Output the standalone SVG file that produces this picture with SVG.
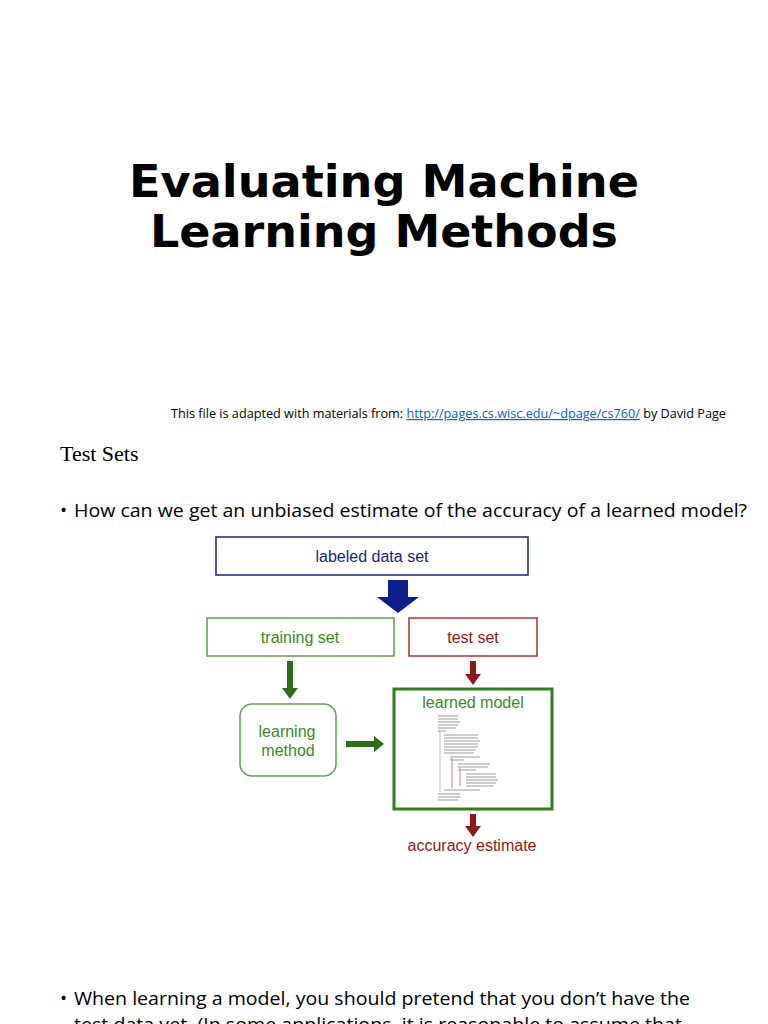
<svg xmlns="http://www.w3.org/2000/svg" width="768" height="1024" viewBox="0 0 768 1024">
<style>
.t{font-family:"DejaVu Sans",sans-serif;font-weight:bold;font-size:45px;fill:#000;text-anchor:middle}
.b{font-family:"Open Sans","Liberation Sans",sans-serif;font-size:19px;fill:#000}
.d{font-family:"Liberation Sans",Arial,sans-serif;font-size:16px;text-anchor:middle}
.g{fill:#3a8a28}.r{fill:#8b1a1a}.n{fill:#1a237e}
.code{stroke:#999;stroke-width:1}
</style>
<rect width="768" height="1024" fill="#fff"/>
<text class="t" x="384" y="197" textLength="510" lengthAdjust="spacingAndGlyphs">Evaluating Machine</text>
<text class="t" x="384" y="247" textLength="468" lengthAdjust="spacingAndGlyphs">Learning Methods</text>
<text x="171" y="418" font-family="Open Sans,Liberation Sans,sans-serif" font-size="12" textLength="555" lengthAdjust="spacingAndGlyphs">This file is adapted with materials from: <tspan fill="#0563c1" text-decoration="underline">http://pages.cs.wisc.edu/~dpage/cs760/</tspan> by David Page</text>
<text x="60" y="461" font-family="Liberation Serif,serif" font-size="22">Test Sets</text>
<text class="b" x="60" y="517">•</text>
<text class="b" x="74" y="517" textLength="673" lengthAdjust="spacingAndGlyphs">How can we get an unbiased estimate of the accuracy of a learned model?</text>
<g id="labeled"><rect x="216" y="537" width="312" height="38" fill="#fff" stroke="#1a237e" stroke-width="1.5"/><text class="d n" x="372" y="562">labeled data set</text></g>
<g id="training"><rect x="207" y="618" width="187" height="38" fill="#fff" stroke="#5fa04e" stroke-width="1.5"/><text class="d g" x="300" y="643">training set</text></g>
<g id="test"><rect x="409" y="618" width="128" height="38" fill="#fff" stroke="#a33" stroke-width="1.5"/><text class="d r" x="473" y="643">test set</text></g>
<g id="method"><rect x="240" y="704" width="96" height="72" rx="12" fill="#fff" stroke="#5fa04e" stroke-width="1.5"/><text class="d g" x="287" y="737">learning</text><text class="d g" x="288" y="756">method</text></g>
<g id="model"><rect x="394" y="689" width="158" height="120" fill="#fff" stroke="#2e7d1e" stroke-width="3"/><text class="d g" x="473" y="708">learned model</text>
<g class="code">
<line x1="438" y1="716" x2="458" y2="716"/><line x1="438" y1="719" x2="458" y2="719"/><line x1="438" y1="722" x2="460" y2="722"/><line x1="438" y1="725" x2="458" y2="725"/><line x1="438" y1="728" x2="456" y2="728"/><line x1="438" y1="731" x2="446" y2="731"/>
<line x1="444" y1="735" x2="478" y2="735"/><line x1="444" y1="738" x2="478" y2="738"/><line x1="444" y1="741" x2="480" y2="741"/><line x1="444" y1="744" x2="478" y2="744"/><line x1="444" y1="747" x2="478" y2="747"/><line x1="444" y1="750" x2="476" y2="750"/><line x1="444" y1="753" x2="474" y2="753"/>
<line x1="450" y1="757" x2="480" y2="757"/><line x1="450" y1="760" x2="464" y2="760"/><line x1="458" y1="764" x2="490" y2="764"/><line x1="458" y1="767" x2="488" y2="767"/><line x1="458" y1="770" x2="476" y2="770"/>
<line x1="466" y1="774" x2="496" y2="774"/><line x1="466" y1="777" x2="496" y2="777"/><line x1="466" y1="780" x2="498" y2="780"/><line x1="466" y1="783" x2="496" y2="783"/><line x1="466" y1="786" x2="494" y2="786"/>
<line x1="444" y1="790" x2="480" y2="790"/><line x1="438" y1="794" x2="460" y2="794"/><line x1="438" y1="797" x2="460" y2="797"/><line x1="438" y1="800" x2="458" y2="800"/>
<line x1="440" y1="731" x2="440" y2="792" stroke="#bbb"/><line x1="452" y1="758" x2="452" y2="788" stroke="#c88"/><line x1="460" y1="768" x2="460" y2="786" stroke="#c88"/>
</g></g>
<g id="accuracy"><text class="d r" x="472" y="851">accuracy estimate</text></g>
<g id="connectors">
<polygon points="388,580 408,580 408,597 419,597 398,613 377,597 388,597" fill="#0d1f8c"/>
<polygon points="287,661 293,661 293,688 298,688 290,699 282,688 287,688" fill="#2e6e1a"/>
<polygon points="470,661 476,661 476,674 481,674 473,685 465,674 470,674" fill="#8b1a1a"/>
<polygon points="346,741 374,741 374,736 384,744 374,752 374,747 346,747" fill="#2e6e1a"/>
<polygon points="470,814 476,814 476,826 481,826 473,837 465,826 470,826" fill="#8b1a1a"/>
</g>
<text class="b" x="60" y="1005">•</text>
<text class="b" x="74" y="1005" textLength="616" lengthAdjust="spacingAndGlyphs">When learning a model, you should pretend that you don’t have the</text>
<text class="b" x="74" y="1031" textLength="608" lengthAdjust="spacingAndGlyphs">test data yet. (In some applications, it is reasonable to assume that</text>
</svg>
